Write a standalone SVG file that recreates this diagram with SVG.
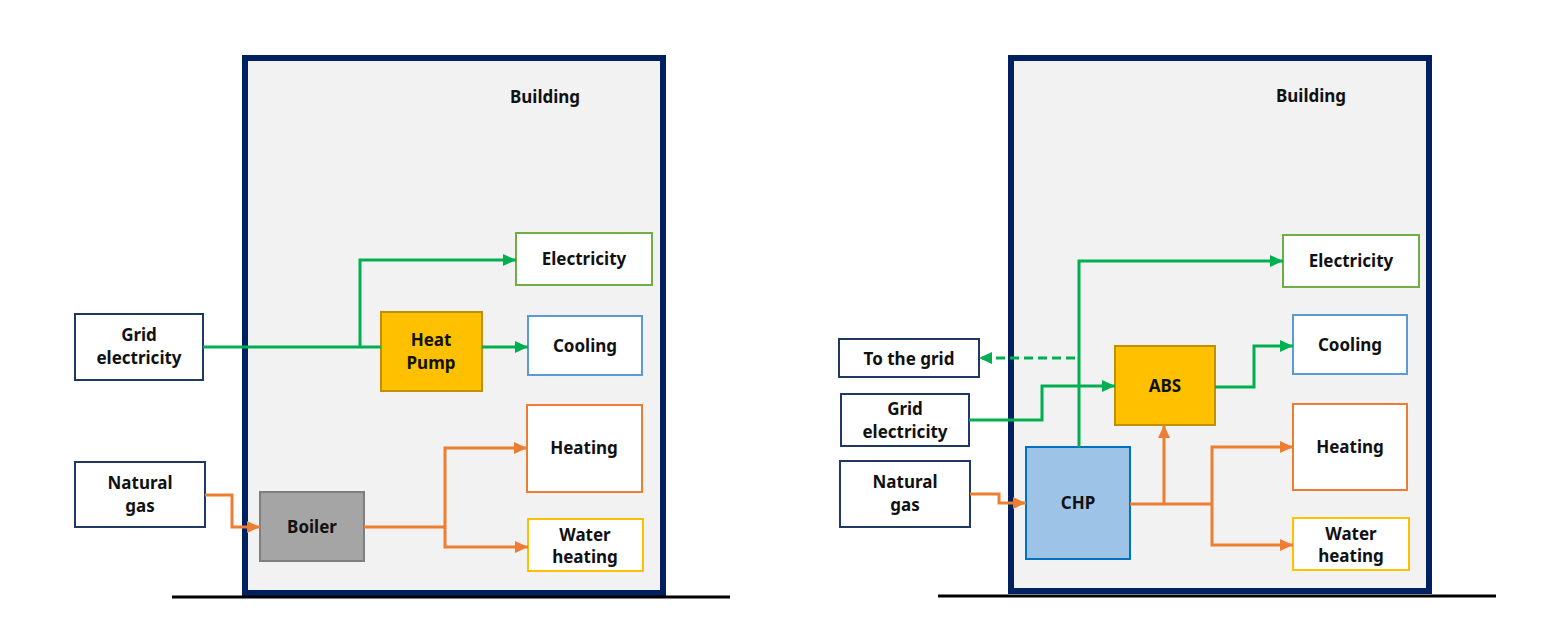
<svg xmlns="http://www.w3.org/2000/svg" width="1550" height="644" viewBox="0 0 1550 644">
<defs>
<style>
text{font-family:"Noto Sans","Open Sans","Liberation Sans",sans-serif;font-weight:bold;font-size:17px;fill:#111;text-anchor:middle}
.bld{fill:#f2f2f2;stroke:#002060;stroke-width:6}
.ground{stroke:#000;stroke-width:3}
.src{fill:#fff;stroke:#1f3864;stroke-width:2}
.g{fill:none;stroke:#00b050;stroke-width:3}
.o{fill:none;stroke:#ed7d31;stroke-width:3}
</style>
<marker id="ag" markerUnits="userSpaceOnUse" markerWidth="14" markerHeight="14" refX="13" refY="7" orient="auto"><path d="M0,1 L13,7 L0,13 Z" fill="#00b050"/></marker>
<marker id="ao" markerUnits="userSpaceOnUse" markerWidth="14" markerHeight="14" refX="13" refY="7" orient="auto"><path d="M0,1 L13,7 L0,13 Z" fill="#ed7d31"/></marker>
</defs>
<rect width="1550" height="644" fill="#fff"/>

<!-- LEFT PANEL -->
<g id="building-left">
<rect class="bld" x="245" y="58" width="418" height="535"/>
<text x="545" y="103">Building</text>
</g>
<line class="ground" x1="172" y1="597" x2="730" y2="597"/>
<g id="grid-left"><rect class="src" x="75" y="314" width="128" height="66"/><text x="139" y="341">Grid</text><text x="139" y="364">electricity</text></g>
<g id="natgas-left"><rect class="src" x="75" y="462" width="130" height="65"/><text x="140" y="489">Natural</text><text x="140" y="512">gas</text></g>
<g id="elec-left"><rect x="516" y="233" width="136" height="52" fill="#fff" stroke="#70ad47" stroke-width="2"/><text x="584" y="265">Electricity</text></g>
<g id="heatpump"><rect x="381" y="312" width="101" height="79" fill="#ffc000" stroke="#bf9000" stroke-width="2"/><text x="431" y="346">Heat</text><text x="431" y="369">Pump</text></g>
<g id="cooling-left"><rect x="528" y="316" width="114" height="59" fill="#fff" stroke="#5b9bd5" stroke-width="2"/><text x="585" y="352">Cooling</text></g>
<g id="boiler"><rect x="260" y="492" width="104" height="69" fill="#a5a5a5" stroke="#7f7f7f" stroke-width="2"/><text x="312" y="533">Boiler</text></g>
<g id="heating-left"><rect x="527" y="405" width="115" height="87" fill="#fff" stroke="#ed7d31" stroke-width="2"/><text x="584" y="454">Heating</text></g>
<g id="water-left"><rect x="528" y="519" width="115" height="52" fill="#fff" stroke="#ffc000" stroke-width="2"/><text x="585" y="541">Water</text><text x="585" y="563">heating</text></g>

<!-- RIGHT PANEL -->
<g id="building-right">
<rect class="bld" x="1011" y="58" width="418" height="533"/>
<text x="1311" y="102">Building</text>
</g>
<line class="ground" x1="938" y1="596" x2="1496" y2="596"/>
<g id="tothegrid"><rect class="src" x="839" y="339" width="140" height="38"/><text x="909" y="365">To the grid</text></g>
<g id="grid-right"><rect class="src" x="841" y="394" width="128" height="52"/><text x="905" y="415">Grid</text><text x="905" y="438">electricity</text></g>
<g id="natgas-right"><rect class="src" x="840" y="461" width="130" height="66"/><text x="905" y="488">Natural</text><text x="905" y="511">gas</text></g>
<g id="elec-right"><rect x="1283" y="235" width="136" height="52" fill="#fff" stroke="#70ad47" stroke-width="2"/><text x="1351" y="267">Electricity</text></g>
<g id="abs"><rect x="1115" y="346" width="100" height="79" fill="#ffc000" stroke="#bf9000" stroke-width="2"/><text x="1165" y="392">ABS</text></g>
<g id="cooling-right"><rect x="1293" y="315" width="114" height="59" fill="#fff" stroke="#5b9bd5" stroke-width="2"/><text x="1350" y="351">Cooling</text></g>
<g id="chp"><rect x="1026" y="447" width="104" height="112" fill="#9dc3e6" stroke="#0070c0" stroke-width="2"/><text x="1078" y="509">CHP</text></g>
<g id="heating-right"><rect x="1293" y="404" width="114" height="86" fill="#fff" stroke="#ed7d31" stroke-width="2"/><text x="1350" y="453">Heating</text></g>
<g id="water-right"><rect x="1293" y="518" width="116" height="52" fill="#fff" stroke="#ffc000" stroke-width="2"/><text x="1351" y="540">Water</text><text x="1351" y="562">heating</text></g>

<g id="connectors">
<!-- left -->
<polyline class="g" points="203,347 381,347"/>
<polyline class="g" points="360,347 360,260 516,260" marker-end="url(#ag)"/>
<polyline class="g" points="482,347 528,347" marker-end="url(#ag)"/>
<polyline class="o" points="205,495 232,495 232,527 260,527" marker-end="url(#ao)"/>
<polyline class="o" points="364,527 445,527"/>
<polyline class="o" points="445,527 445,448 527,448" marker-end="url(#ao)"/>
<polyline class="o" points="445,527 445,547 528,547" marker-end="url(#ao)"/>
<!-- right -->
<polyline class="g" points="1079,447 1079,261 1283,261" marker-end="url(#ag)"/>
<polyline class="g" points="1075,358 979,358" stroke-dasharray="9,5" marker-end="url(#ag)"/>
<polyline class="g" points="969,420 1042,420 1042,386 1115,386" marker-end="url(#ag)"/>
<polyline class="g" points="1215,387 1254,387 1254,346 1293,346" marker-end="url(#ag)"/>
<polyline class="o" points="970,494 999,494 999,503 1026,503" marker-end="url(#ao)"/>
<polyline class="o" points="1130,504 1212,504"/>
<polyline class="o" points="1164,504 1164,425" marker-end="url(#ao)"/>
<polyline class="o" points="1212,504 1212,447 1293,447" marker-end="url(#ao)"/>
<polyline class="o" points="1212,504 1212,545 1293,545" marker-end="url(#ao)"/>
</g>
</svg>
